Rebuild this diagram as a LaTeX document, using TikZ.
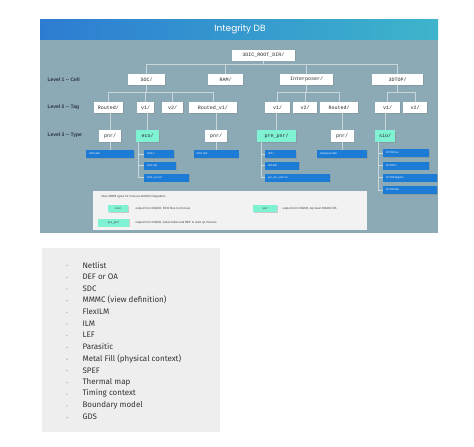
\documentclass[tikz,border=0pt]{standalone}
\usepackage{fontspec}
\setmainfont{Fira Sans}
\newfontfamily\monof{Liberation Mono}
\newfontfamily\titlef{Poppins}
\newfontfamily\sanf{Liberation Sans}
\usetikzlibrary{shadows,calc}
\definecolor{panel}{HTML}{8CAAB6}
\definecolor{conn}{HTML}{C9D6DA}
\definecolor{mint}{HTML}{7EF2D2}
\definecolor{fblue}{HTML}{1C7CD5}
\definecolor{tbL}{HTML}{2D7CD2}
\definecolor{tbR}{HTML}{3DB5CB}
\definecolor{lgray}{HTML}{EEEEEE}
\definecolor{lvlc}{HTML}{2B3440}
\definecolor{bulc}{HTML}{8A9AB0}
\tikzset{
  x=1pt,y=-1pt,
  shd/.style={drop shadow={opacity=0.35,shadow xshift=0.7pt,shadow yshift=-0.7pt}},
  wbox/.style={draw=none,fill=white,shd,minimum height=11pt,inner sep=0pt,font=\monof\fontsize{5}{6}\selectfont,text=black!85},
  tbox/.style={wbox,fill=mint},
  bbox/.style={fill=fblue,shd,minimum height=8pt,inner sep=0pt,anchor=west,font=\sanf\fontsize{2.6}{3}\selectfont,text=white,align=left,text width=#1-6pt,minimum width=#1},
  lvl/.style={anchor=west,font=\sanf\bfseries\fontsize{5}{6}\selectfont,text=lvlc},
  conline/.style={draw=conn,line width=0.6pt},
  legt/.style={anchor=west,font=\sanf\fontsize{3}{4}\selectfont,text=black!75},
  ltbox/.style={fill=mint,shd,inner sep=0pt,font=\sanf\fontsize{3}{4}\selectfont,text=black!75},
  item/.style={anchor=west,font=\fontsize{8}{9}\selectfont,text=black!80},
  bul/.style={circle,fill=bulc,inner sep=0pt,minimum size=1.3pt}
}
\begin{document}
\begin{tikzpicture}
\useasboundingbox (0,0) rectangle (474,447);
\fill[white] (0,0) rectangle (474,447);
% panel
\fill[panel] (40,19) rectangle (438,233);
\shade[left color=tbL,right color=tbR] (40,19) rectangle (438,39);
\node[font=\titlef\fontsize{9}{10}\selectfont,text=white] (title) at (240,29.5) {Integrity DB};
% level labels
\node[lvl] (l1) at (44,79.5) {Level 1 -- Cell};
\node[lvl] (l2) at (44,107.5) {Level 2 -- Tag};
\node[lvl] (l3) at (44,135.5) {Level 3 -- Type};
% buses
\coordinate (bus1) at (0,64);
\coordinate (bus2) at (0,92);
% nodes
\node[wbox,minimum width=63pt] (root) at (263.5,55) {3DIC\_ROOT\_DIR/};
\node[wbox,minimum width=37pt] (soc) at (146.5,79.5) {SOC/};
\node[wbox,minimum width=35pt] (ram) at (225.5,79.5) {RAM/};
\node[wbox,minimum width=53pt] (intp) at (306.5,79.5) {Interposer/};
\node[wbox,minimum width=51pt] (top) at (397.5,79.5) {3DTOP/};
\node[wbox,minimum width=29pt] (r1) at (108.5,107.5) {Routed/};
\node[wbox,minimum width=17pt] (sv1) at (145.5,107.5) {v1/};
\node[wbox,minimum width=21pt] (sv2) at (172.5,107.5) {v2/};
\node[wbox,minimum width=48pt] (rv1) at (213,107.5) {Routed\_v1/};
\node[wbox,minimum width=25pt] (iv1) at (277.5,107.5) {v1/};
\node[wbox,minimum width=24pt] (iv2) at (305,107.5) {v2/};
\node[wbox,minimum width=38pt] (ir) at (339,107.5) {Routed/};
\node[wbox,minimum width=25pt] (tv1) at (387.5,107.5) {v1/};
\node[wbox,minimum width=24pt] (tv2) at (415,107.5) {v2/};
\node[wbox,minimum width=22pt,minimum height=12pt] (pnr1) at (110,136) {pnr/};
\node[tbox,minimum width=23pt,minimum height=12pt] (eco) at (147.5,136) {eco/};
\node[wbox,minimum width=22pt,minimum height=12pt] (pnr2) at (216,136) {pnr/};
\node[tbox,minimum width=39pt,minimum height=12pt] (pre) at (276.5,136) {pre\_pnr/};
\node[wbox,minimum width=23pt,minimum height=12pt] (pnr3) at (342,136) {pnr/};
\node[tbox,minimum width=20pt,minimum height=12pt] (sio) at (385,136) {sio/};
% blue boxes
\node[bbox=48pt] (b1) at (86,154) {SOC.def/};
\node[bbox=30pt] (e1) at (144,154) {SOC.v};
\node[bbox=32pt] (e2) at (144,165.5) {SOC.def};
\node[bbox=45pt] (e3) at (144,177.5) {SOC\_eco.tcl};
\node[bbox=45pt] (b2) at (193.5,154) {SOC.def/};
\node[bbox=31pt] (p1) at (265,154) {INT.v};
\node[bbox=34pt] (p2) at (265,165.5) {INT.def/};
\node[bbox=65pt] (p3) at (265,177.5) {pre\_pnr\_esch.tcl};
\node[bbox=50pt] (b3) at (317,154) {Interposer.def/};
\node[bbox=46pt] (s1) at (383,153) {3DTOP.sio};
\node[bbox=46pt] (s2) at (383,165.5) {3DTOP.v};
\node[bbox=54pt] (s3) at (383,177.5) {3DTOP.pkginfo};
\node[bbox=54pt] (s4) at (383,190) {3DTOP.abc};
% connectors level 1
\draw[conline] (root.south) -- (root.south |- bus1);
\draw[conline] (soc.north) -- (soc.north |- bus1) -- (top.north |- bus1) -- (top.north);
\draw[conline] (ram.north) -- (ram.north |- bus1);
\draw[conline] (intp.north) -- (intp.north |- bus1);
% level 2
\draw[conline] (soc.south) -- (soc.south |- bus2);
\draw[conline] (r1.north) -- (r1.north |- bus2) -- (rv1.north |- bus2) -- (rv1.north);
\draw[conline] (sv1.north) -- (sv1.north |- bus2);
\draw[conline] (sv2.north) -- (sv2.north |- bus2);
\draw[conline] (intp.south) -- (intp.south |- bus2);
\draw[conline] (iv1.north) -- (iv1.north |- bus2) -- (ir.north |- bus2) -- (ir.north);
\draw[conline] (iv2.north) -- (iv2.north |- bus2);
\draw[conline] (top.south) -- (top.south |- bus2);
\draw[conline] (tv1.north) -- (tv1.north |- bus2) -- (tv2.north |- bus2) -- (tv2.north);
% level 3
\draw[conline] (r1.south -| pnr1.north) -- (pnr1.north);
\draw[conline] (sv1.south -| eco.north) -- (eco.north);
\draw[conline] (rv1.south -| pnr2.north) -- (pnr2.north);
\draw[conline] (iv1.south -| pre.north) -- (pre.north);
\draw[conline] (ir.south -| pnr3.north) -- (pnr3.north);
\draw[conline] (tv1.south -| sio.north) -- (sio.north);
% to blue boxes
\draw[conline] (pnr1.south) -- (pnr1.south |- b1.north);
\draw[conline] (pnr2.south) -- (pnr2.south |- b2.north);
\draw[conline] (pnr3.south) -- (pnr3.south |- b3.north);
\draw[conline] ([xshift=2.5pt]eco.south west) |- (e1.west);
\draw[conline] ([xshift=2.5pt]eco.south west) |- (e2.west);
\draw[conline] ([xshift=2.5pt]eco.south west) |- (e3.west);
\draw[conline] ([xshift=4pt]pre.south west) |- (p1.west);
\draw[conline] ([xshift=4pt]pre.south west) |- (p2.west);
\draw[conline] ([xshift=4pt]pre.south west) |- (p3.west);
\draw[conline] ([xshift=3pt]sio.south west) |- (s1.west);
\draw[conline] ([xshift=3pt]sio.south west) |- (s2.west);
\draw[conline] ([xshift=3pt]sio.south west) |- (s3.west);
\draw[conline] ([xshift=3pt]sio.south west) |- (s4.west);
% legend
\fill[white!95!black] (93,191) rectangle (367,230);
\node[legt] (lt) at (98,197) {New 3DDB types for Innovus-OrbitIO integration};
\node[ltbox,minimum width=20pt,minimum height=7pt] (leco) at (118,208.5) {eco/};
\node[legt] (leco-t) at (132,208.5) {output from OrbitIO, ECO files to Innovus};
\node[ltbox,minimum width=24pt,minimum height=7pt] (lsio) at (265,208.5) {sio/};
\node[legt] (lsio-t) at (279,208.5) {output from OrbitIO, top level OrbitIO DB};
\node[ltbox,minimum width=31pt,minimum height=8pt] (lpre) at (113.5,222.5) {pre\_pnr/};
\node[legt] (lpre-t) at (132,222.5) {output from OrbitIO, initial netlist and DEF to start up Innovus};
% lower list
\fill[lgray] (42,248) rectangle (220,432);
\foreach \t [count=\i] in {Netlist,DEF or OA,SDC,MMMC (view definition),FlexILM,ILM,LEF,Parasitic,Metal Fill (physical context),SPEF,Thermal map,Timing context,Boundary model,GDS}{
  \node[bul] (b\i) at (67,{265.5+(\i-1)*11.7}) {};
  \node[item] (it\i) at (79,{265+(\i-1)*11.7}) {\t};
}
\end{tikzpicture}
\end{document}
